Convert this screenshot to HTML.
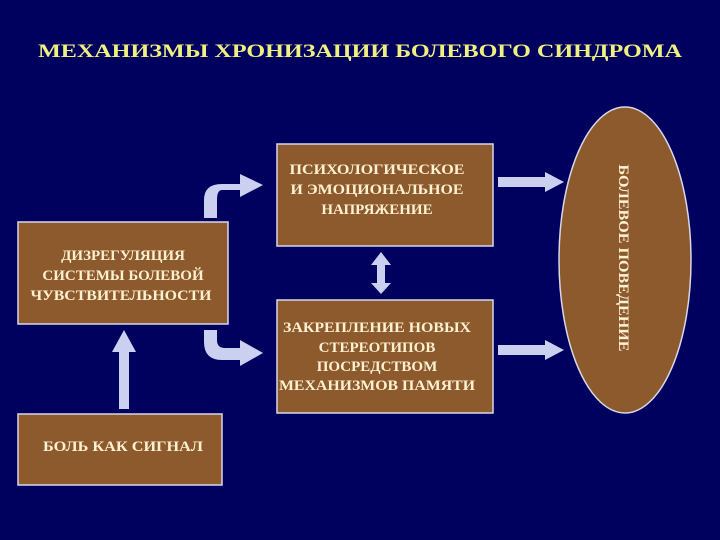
<!DOCTYPE html>
<html><head><meta charset="utf-8"><style>
html,body{margin:0;padding:0;background:#00005e;}
svg{display:block}
text{font-family:"Liberation Serif",serif;font-weight:bold;}
</style></head><body>
<svg width="720" height="540" viewBox="0 0 720 540" xmlns="http://www.w3.org/2000/svg">
<rect width="720" height="540" fill="#00005e"/>
<text x="360" y="57" text-anchor="middle" font-size="19" fill="#f0f080" textLength="644" lengthAdjust="spacingAndGlyphs">МЕХАНИЗМЫ ХРОНИЗАЦИИ БОЛЕВОГО СИНДРОМА</text>
<g fill="#8c5a2c" stroke="#d8d8e8" stroke-width="1.5">
<rect x="18" y="222" width="210" height="102"/>
<rect x="18" y="414" width="204" height="71"/>
<rect x="277" y="144" width="216" height="102"/>
<rect x="277" y="300" width="216" height="113"/>
<ellipse cx="625" cy="260" rx="66" ry="153"/>
</g>
<g fill="#fff0d0" font-size="15" text-anchor="middle">
<text x="123" y="260">ДИЗРЕГУЛЯЦИЯ</text>
<text x="123" y="280">СИСТЕМЫ БОЛЕВОЙ</text>
<text x="121" y="300" textLength="181" lengthAdjust="spacingAndGlyphs">ЧУВСТВИТЕЛЬНОСТИ</text>
<text x="123" y="451" textLength="160" lengthAdjust="spacingAndGlyphs">БОЛЬ КАК СИГНАЛ</text>
<text x="377" y="174" textLength="175" lengthAdjust="spacingAndGlyphs">ПСИХОЛОГИЧЕСКОЕ</text>
<text x="377" y="194" textLength="173" lengthAdjust="spacingAndGlyphs">И ЭМОЦИОНАЛЬНОЕ</text>
<text x="377" y="214">НАПРЯЖЕНИЕ</text>
<text x="377" y="332" textLength="188" lengthAdjust="spacingAndGlyphs">ЗАКРЕПЛЕНИЕ НОВЫХ</text>
<text x="377" y="352">СТЕРЕОТИПОВ</text>
<text x="377" y="371">ПОСРЕДСТВОМ</text>
<text x="377" y="390" textLength="196" lengthAdjust="spacingAndGlyphs">МЕХАНИЗМОВ ПАМЯТИ</text>
<text transform="translate(619,258) rotate(90)" x="0" y="0" font-size="15" textLength="187" lengthAdjust="spacingAndGlyphs">БОЛЕВОЕ ПОВЕДЕНИЕ</text>
</g>
<g fill="#ccd0f0">
<polygon points="119,409 119,352 112,352 124,330 136,352 129,352 129,409"/>
<path d="M204,218 L204,200 Q204,184 222,184 L240,184 L240,174 L263,185 L240,197 L240,190 L222,190 Q217,190 217,200 L217,218 Z"/>
<path d="M204,330 L217,330 L217,340 Q217,348 225,348 L240,348 L240,340 L263,353 L240,366 L240,360 L222,360 Q204,360 204,342 Z"/>
<polygon points="381,252 391,265 385,265 385,283 391,283 381,294 371,283 377,283 377,265 371,265"/>
<polygon points="498,177 545,177 545,172 564,182 545,192 545,187 498,187"/>
<polygon points="498,345 545,345 545,340 564,350 545,360 545,355 498,355"/>
</g>
</svg>
</body></html>
